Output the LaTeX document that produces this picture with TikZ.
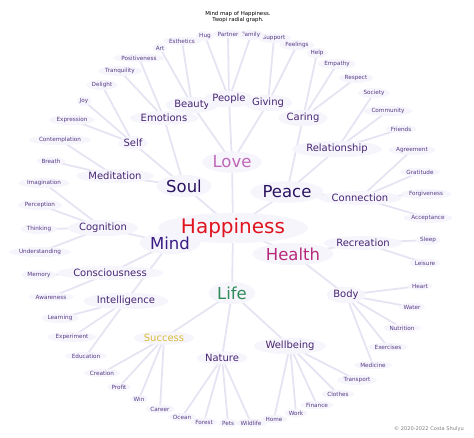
\documentclass[tikz,border=0pt]{standalone}
\usepackage{fontspec}
\setmainfont{DejaVu Sans}
\usetikzlibrary{shapes.geometric}
\pgfdeclarelayer{background}
\pgfsetlayers{background,main}
\definecolor{happyred}{HTML}{E0141E}
\definecolor{lovecol}{HTML}{C068B8}
\definecolor{healthcol}{HTML}{B8287A}
\definecolor{lifecol}{HTML}{2E8B57}
\definecolor{deeppurple}{HTML}{2B1360}
\definecolor{mindcol}{HTML}{3A1C84}
\definecolor{ringcol}{HTML}{472672}
\definecolor{successcol}{HTML}{D9BC3A}
\definecolor{leafcol}{HTML}{573B86}
\definecolor{nodebg}{HTML}{F6F5FC}
\definecolor{edgecol}{HTML}{E6E4F3}
\tikzset{
  bub/.style={ellipse, fill=nodebg, inner sep=0.6pt},
  centre/.style={bub, text=happyred, font=\fontsize{20}{22}\selectfont, inner sep=1pt},
  ringone/.style={bub, font=\fontsize{16.5}{18}\selectfont, inner sep=1.5pt},
  ringtwo/.style={bub, text=ringcol, font=\fontsize{10}{12}\selectfont, inner sep=1pt},
  leaf/.style={bub, text=leafcol, font=\fontsize{5.7}{6.5}\selectfont, inner sep=0.8pt},
  link/.style={draw=edgecol, line width=1.8pt},
}
\begin{document}
\begin{tikzpicture}[x=1pt,y=-1pt]
\useasboundingbox (0,0) rectangle (474,438);
\node[font=\fontsize{5.4}{6}\selectfont, align=center] (title) at (238,17) {Mind map of Happiness.\\Twopi radial graph.};
\node[text=gray, font=\fontsize{5.1}{6}\selectfont] (copy) at (429,429) {© 2020-2022 Costa Shulyu};
% centre and first ring
\node[centre] (happiness) at (233,228) {Happiness};
\node[ringone, text=lovecol] (love) at (232,162) {Love};
\node[ringone, text=deeppurple] (soul) at (184,186) {Soul};
\node[ringone, text=deeppurple] (peace) at (287,192) {Peace};
\node[ringone, text=mindcol] (mind) at (170,243) {Mind};
\node[ringone, text=healthcol] (health) at (293,254) {Health};
\node[ringone, text=lifecol] (life) at (232,293) {Life};
% second ring
\node[ringtwo] (beauty) at (192,105) {Beauty};
\node[ringtwo] (people) at (229,99) {People};
\node[ringtwo] (giving) at (268,103) {Giving};
\node[ringtwo] (caring) at (303,118) {Caring};
\node[ringtwo] (relationship) at (337,149) {Relationship};
\node[ringtwo] (connection) at (360,198) {Connection};
\node[ringtwo] (recreation) at (363,243) {Recreation};
\node[ringtwo] (body) at (346,295) {Body};
\node[ringtwo] (wellbeing) at (290,346) {Wellbeing};
\node[ringtwo] (nature) at (222,358) {Nature};
\node[ringtwo, text=successcol] (success) at (164,338) {Success};
\node[ringtwo] (intelligence) at (126,301) {Intelligence};
\node[ringtwo] (consciousness) at (110,273) {Consciousness};
\node[ringtwo] (cognition) at (103,228) {Cognition};
\node[ringtwo] (meditation) at (115,176) {Meditation};
\node[ringtwo] (self) at (133,143) {Self};
\node[ringtwo] (emotions) at (164,118) {Emotions};
% leaves
\node[leaf] (esthetics) at (182,41) {Esthetics};
\node[leaf] (art) at (160,48) {Art};
\node[leaf] (positiveness) at (139,58) {Positiveness};
\node[leaf] (tranquility) at (120,71) {Tranquility};
\node[leaf] (delight) at (102,85) {Delight};
\node[leaf] (joy) at (84,101) {Joy};
\node[leaf] (expression) at (72,120) {Expression};
\node[leaf] (contemplation) at (60,140) {Contemplation};
\node[leaf] (breath) at (51,161) {Breath};
\node[leaf] (imagination) at (44,183) {Imagination};
\node[leaf] (perception) at (40,205) {Perception};
\node[leaf] (thinking) at (39,229) {Thinking};
\node[leaf] (understanding) at (40,252) {Understanding};
\node[leaf] (memory) at (39,275) {Memory};
\node[leaf] (awareness) at (51,297) {Awareness};
\node[leaf] (learning) at (60,318) {Learning};
\node[leaf] (experiment) at (72,337) {Experiment};
\node[leaf] (education) at (86,356) {Education};
\node[leaf] (creation) at (102,373) {Creation};
\node[leaf] (profit) at (119,387) {Profit};
\node[leaf] (win) at (139,399) {Win};
\node[leaf] (career) at (160,409) {Career};
\node[leaf] (ocean) at (182,417) {Ocean};
\node[leaf] (forest) at (204,422) {Forest};
\node[leaf] (pets) at (228,423) {Pets};
\node[leaf] (wildlife) at (251,423) {Wildlife};
\node[leaf] (home) at (274,419) {Home};
\node[leaf] (work) at (296,413) {Work};
\node[leaf] (finance) at (317,405) {Finance};
\node[leaf] (clothes) at (338,394) {Clothes};
\node[leaf] (transport) at (357,380) {Transport};
\node[leaf] (medicine) at (373,365) {Medicine};
\node[leaf] (exercises) at (388,347) {Exercises};
\node[leaf] (nutrition) at (402,328) {Nutrition};
\node[leaf] (water) at (412,307) {Water};
\node[leaf] (heart) at (420,286) {Heart};
\node[leaf] (leisure) at (425,263) {Leisure};
\node[leaf] (sleep) at (428,240) {Sleep};
\node[leaf] (acceptance) at (428,218) {Acceptance};
\node[leaf] (forgiveness) at (426,194) {Forgiveness};
\node[leaf] (gratitude) at (420,172) {Gratitude};
\node[leaf] (agreement) at (412,150) {Agreement};
\node[leaf] (friends) at (401,129) {Friends};
\node[leaf] (community) at (388,111) {Community};
\node[leaf] (society) at (374,93) {Society};
\node[leaf] (respect) at (356,78) {Respect};
\node[leaf] (empathy) at (337,64) {Empathy};
\node[leaf] (help) at (317,53) {Help};
\node[leaf] (feelings) at (297,45) {Feelings};
\node[leaf] (support) at (274,38) {Support};
\node[leaf] (family) at (251,35) {Family};
\node[leaf] (partner) at (228,34) {Partner};
\node[leaf] (hug) at (205,36) {Hug};
\begin{pgfonlayer}{background}
\foreach \a/\b in {happiness/love, happiness/soul, happiness/peace, happiness/mind, happiness/health, happiness/life,
  love/beauty, love/people, love/giving,
  peace/caring, peace/relationship, peace/connection,
  health/recreation, health/body,
  life/wellbeing, life/nature, life/success,
  mind/intelligence, mind/consciousness, mind/cognition,
  soul/meditation, soul/self, soul/emotions,
  beauty/esthetics, beauty/art,
  emotions/positiveness, emotions/tranquility,
  self/delight, self/joy, self/expression,
  meditation/contemplation, meditation/breath,
  cognition/imagination, cognition/perception, cognition/thinking, cognition/understanding,
  consciousness/memory, consciousness/awareness,
  intelligence/learning, intelligence/experiment, intelligence/education,
  success/creation, success/profit, success/win, success/career,
  nature/ocean, nature/forest, nature/pets, nature/wildlife,
  wellbeing/home, wellbeing/work, wellbeing/finance, wellbeing/clothes, wellbeing/transport,
  body/medicine, body/exercises, body/nutrition, body/water, body/heart,
  recreation/leisure, recreation/sleep,
  connection/acceptance, connection/forgiveness, connection/gratitude, connection/agreement,
  relationship/friends, relationship/community, relationship/society,
  caring/respect, caring/empathy, caring/help,
  giving/feelings, giving/support,
  people/family, people/partner, people/hug}
  \draw[link] (\a.center) -- (\b.center);
\end{pgfonlayer}
\end{tikzpicture}
\end{document}
